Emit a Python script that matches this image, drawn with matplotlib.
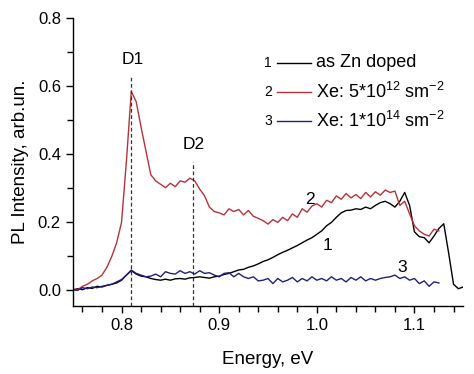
import numpy as np
import matplotlib
matplotlib.use("Agg")
import matplotlib.pyplot as plt
from matplotlib.ticker import MultipleLocator

plt.rcParams['font.family'] = ['Liberation Sans', 'DejaVu Sans']
plt.rcParams['mathtext.fontset'] = 'custom'
plt.rcParams['mathtext.rm'] = 'Liberation Sans'

energy = [0.750, 0.755, 0.760, 0.765, 0.770, 0.775, 0.780, 0.785, 0.790, 0.795,
          0.800, 0.805, 0.810, 0.815, 0.820, 0.825, 0.830, 0.835, 0.840, 0.845,
          0.850, 0.855, 0.860, 0.865, 0.870, 0.875, 0.880, 0.885, 0.890, 0.895,
          0.900, 0.905, 0.910, 0.915, 0.920, 0.925, 0.930, 0.935, 0.940, 0.945,
          0.950, 0.955, 0.960, 0.965, 0.970, 0.975, 0.980, 0.985, 0.990, 0.995,
          1.000, 1.005, 1.010, 1.015, 1.020, 1.025, 1.030, 1.035, 1.040, 1.045,
          1.050, 1.055, 1.060, 1.065, 1.070, 1.075, 1.080, 1.085, 1.090, 1.095,
          1.100, 1.105, 1.110, 1.115, 1.120, 1.125, 1.130, 1.135, 1.140, 1.145,
          1.150]

nan = float('nan')

zn_doped = [0.000, 0.005, 0.002, 0.008, 0.006, 0.012, 0.010, 0.015, 0.018, 0.022,
            0.030, 0.045, 0.058, 0.048, 0.042, 0.040, 0.035, 0.032, 0.030, 0.033,
            0.030, 0.034, 0.035, 0.033, 0.037, 0.038, 0.040, 0.038, 0.036, 0.040,
            0.042, 0.047, 0.050, 0.055, 0.060, 0.062, 0.068, 0.072, 0.078, 0.085,
            0.090, 0.097, 0.105, 0.112, 0.118, 0.125, 0.132, 0.140, 0.148, 0.155,
            0.165, 0.175, 0.190, 0.200, 0.215, 0.228, 0.235, 0.236, 0.240, 0.238,
            0.245, 0.240, 0.250, 0.258, 0.262, 0.255, 0.245, 0.262, 0.288, 0.250,
            0.172, 0.158, 0.155, 0.140, 0.160, 0.182, 0.196, 0.110, 0.018, 0.005,
            0.010]

xe_5e12 = [0.005, 0.002, 0.012, 0.018, 0.028, 0.035, 0.045, 0.068, 0.100, 0.140,
           0.200, 0.380, 0.585, 0.555, 0.480, 0.410, 0.340, 0.322, 0.312, 0.302,
           0.315, 0.305, 0.322, 0.318, 0.330, 0.322, 0.298, 0.278, 0.245, 0.232,
           0.228, 0.222, 0.240, 0.232, 0.238, 0.222, 0.235, 0.218, 0.212, 0.205,
           0.195, 0.208, 0.200, 0.215, 0.205, 0.225, 0.215, 0.240, 0.230, 0.248,
           0.255, 0.245, 0.265, 0.258, 0.278, 0.268, 0.285, 0.272, 0.282, 0.270,
           0.288, 0.275, 0.290, 0.280, 0.295, 0.288, 0.292, 0.250, 0.262, 0.225,
           0.190, 0.175, 0.165, 0.160, 0.180, 0.175, nan, nan, nan, nan,
           nan]

xe_1e14 = [0.002, 0.000, 0.008, 0.005, 0.010, 0.008, 0.012, 0.015, 0.018, 0.025,
           0.032, 0.045, 0.060, 0.050, 0.045, 0.040, 0.042, 0.048, 0.040, 0.055,
           0.050, 0.048, 0.058, 0.050, 0.055, 0.048, 0.058, 0.050, 0.052, 0.045,
           0.040, 0.050, 0.052, 0.040, 0.050, 0.040, 0.035, 0.040, 0.028, 0.030,
           0.035, 0.020, 0.035, 0.025, 0.030, 0.038, 0.025, 0.035, 0.028, 0.040,
           0.030, 0.035, 0.028, 0.040, 0.030, 0.035, 0.025, 0.038, 0.030, 0.040,
           0.028, 0.035, 0.030, 0.035, 0.038, 0.040, 0.045, 0.035, 0.040, 0.030,
           0.035, 0.020, 0.028, 0.012, 0.025, 0.022, nan, nan, nan, nan,
           nan]

series_names = ["as Zn doped", "Xe: 5*10$^{\\mathregular{12}}$ sm$^{\\mathregular{-2}}$",
                "Xe: 1*10$^{\\mathregular{14}}$ sm$^{\\mathregular{-2}}$"]
series_numbers = ["1", "2", "3"]
colors = ["#000000", "#b8323a", "#1f1f80"]

peak_names = ["D1", "D2"]
peak_pos = [0.810, 0.873]
peak_top = [0.627, 0.378]

fig = plt.figure(figsize=(4.74, 3.74), dpi=100)
ax = fig.add_axes([0.1534, 0.1826, 0.824, 0.7684])

for vals, c in zip([zn_doped, xe_5e12, xe_1e14], colors):
    ax.plot(energy, vals, color=c, lw=1.0)

for name, xp, yt in zip(peak_names, peak_pos, peak_top):
    ax.plot([xp, xp], [-0.045, yt], color="#333333", lw=0.9, ls=(0, (3, 2)))
    ax.text(xp + 0.001, yt + 0.03, name, ha='center', va='bottom', fontsize=12.5)

ax.text(0.9925, 0.268, "2", ha='center', va='center', fontsize=12.5)
ax.text(1.011, 0.133, "1", ha='center', va='center', fontsize=12.5)
ax.text(1.087, 0.066, "3", ha='center', va='center', fontsize=12.5)

# legend
rows_y = [0.845, 0.744, 0.643]
for num, name, c, yy in zip(series_numbers, series_names, colors, rows_y):
    ax.text(0.50, yy, num, transform=ax.transAxes, ha='center', va='center', fontsize=10)
    ax.plot([0.523, 0.610], [yy, yy], transform=ax.transAxes, color=c, lw=1.0)
    ax.text(0.623, yy, name, transform=ax.transAxes, ha='left', va='center', fontsize=13)

ax.set_xlim(0.75, 1.15)
ax.set_ylim(-0.045, 0.8)
ax.xaxis.set_major_locator(MultipleLocator(0.1))
ax.xaxis.set_minor_locator(MultipleLocator(0.02))
ax.yaxis.set_major_locator(MultipleLocator(0.2))
ax.yaxis.set_minor_locator(MultipleLocator(0.1))
ax.xaxis.set_major_formatter(plt.FormatStrFormatter('%.1f'))
ax.yaxis.set_major_formatter(plt.FormatStrFormatter('%.1f'))
ax.spines['top'].set_visible(False)
ax.spines['right'].set_visible(False)
for s in ['left', 'bottom']:
    ax.spines[s].set_linewidth(1.0)
ax.tick_params(which='major', direction='out', length=5, width=1.0, labelsize=12)
ax.tick_params(which='minor', direction='out', length=4, width=1.0)
ax.set_xlabel("Energy, eV", fontsize=13.5, labelpad=13)
ax.set_ylabel("PL Intensity, arb.un.", fontsize=13.5, labelpad=6)

fig.savefig("out.png", dpi=100)
